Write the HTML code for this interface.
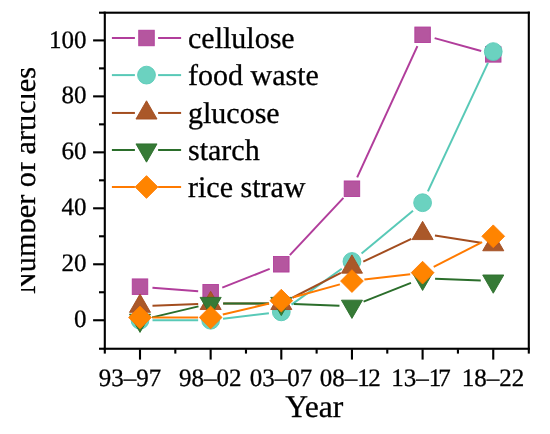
<!DOCTYPE html>
<html><head><meta charset="utf-8"><title>Number of articles by year</title>
<style>
html,body{margin:0;padding:0;background:#fff;width:550px;height:434px;overflow:hidden}
svg{display:block}
text{font-family:"Liberation Serif","Times New Roman",serif;fill:#000;stroke:#000;stroke-width:0.3px;text-rendering:geometricPrecision}
.tk text{font-size:25px}
.lg{font-size:30px}
.ti{font-size:30.3px}
.yr{font-size:31.6px}
</style></head><body>
<svg width="550" height="434" viewBox="0 0 550 434">
<rect width="550" height="434" fill="#fff"/>
<g stroke-width="2.0"><line x1="152.46" y1="287.66" x2="198.19" y2="291.28" stroke="#b13d9b"/><line x1="222.27" y1="287.66" x2="269.68" y2="268.88" stroke="#b13d9b"/><line x1="289.84" y1="255.15" x2="343.41" y2="197.85" stroke="#b13d9b"/><line x1="357.16" y1="177.36" x2="417.39" y2="46.16" stroke="#b13d9b"/><line x1="434.65" y1="38.14" x2="481.2" y2="51.05" stroke="#b13d9b"/></g><rect x="132.25" y="278.92" width="15.5" height="15.5" fill="#b5569f" stroke="#b13d9b" stroke-width="0.9"/><rect x="202.9" y="284.51" width="15.5" height="15.5" fill="#b5569f" stroke="#b13d9b" stroke-width="0.9"/><rect x="273.55" y="256.53" width="15.5" height="15.5" fill="#b5569f" stroke="#b13d9b" stroke-width="0.9"/><rect x="344.2" y="180.97" width="15.5" height="15.5" fill="#b5569f" stroke="#b13d9b" stroke-width="0.9"/><rect x="414.85" y="27.05" width="15.5" height="15.5" fill="#b5569f" stroke="#b13d9b" stroke-width="0.9"/><rect x="485.5" y="46.64" width="15.5" height="15.5" fill="#b5569f" stroke="#b13d9b" stroke-width="0.9"/><g stroke-width="2.0"><line x1="152.5" y1="320.25" x2="198.15" y2="320.25" stroke="#58c9b7"/><line x1="223.06" y1="318.77" x2="268.89" y2="313.33" stroke="#58c9b7"/><line x1="291.48" y1="304.6" x2="341.77" y2="268.74" stroke="#58c9b7"/><line x1="361.56" y1="253.49" x2="412.99" y2="210.71" stroke="#58c9b7"/><line x1="427.89" y1="191.39" x2="487.96" y2="62.92" stroke="#58c9b7"/></g><circle cx="140" cy="320.25" r="8.9" fill="#6bd2c0" stroke="#58c9b7" stroke-width="0.9"/><circle cx="210.65" cy="320.25" r="8.9" fill="#6bd2c0" stroke="#58c9b7" stroke-width="0.9"/><circle cx="281.3" cy="311.85" r="8.9" fill="#6bd2c0" stroke="#58c9b7" stroke-width="0.9"/><circle cx="351.95" cy="261.48" r="8.9" fill="#6bd2c0" stroke="#58c9b7" stroke-width="0.9"/><circle cx="422.6" cy="202.71" r="8.9" fill="#6bd2c0" stroke="#58c9b7" stroke-width="0.9"/><circle cx="493.25" cy="51.59" r="8.9" fill="#6bd2c0" stroke="#58c9b7" stroke-width="0.9"/><g stroke-width="2.0"><line x1="152.49" y1="305.76" x2="198.16" y2="303.95" stroke="#a34d1f"/><line x1="223.15" y1="303.46" x2="268.8" y2="303.46" stroke="#a34d1f"/><line x1="292.41" y1="297.74" x2="340.84" y2="272.8" stroke="#a34d1f"/><line x1="363.24" y1="261.71" x2="411.31" y2="238.86" stroke="#a34d1f"/><line x1="434.95" y1="235.45" x2="480.9" y2="242.73" stroke="#a34d1f"/></g><polygon points="140,294.09 150.53,312.34 129.47,312.34" fill="#aa5829" stroke="#a34d1f" stroke-width="0.9" stroke-linejoin="miter"/><polygon points="210.65,291.29 221.19,309.54 200.12,309.54" fill="#aa5829" stroke="#a34d1f" stroke-width="0.9" stroke-linejoin="miter"/><polygon points="281.3,291.29 291.84,309.54 270.76,309.54" fill="#aa5829" stroke="#a34d1f" stroke-width="0.9" stroke-linejoin="miter"/><polygon points="351.95,254.91 362.49,273.16 341.42,273.16" fill="#aa5829" stroke="#a34d1f" stroke-width="0.9" stroke-linejoin="miter"/><polygon points="422.6,221.33 433.14,239.58 412.06,239.58" fill="#aa5829" stroke="#a34d1f" stroke-width="0.9" stroke-linejoin="miter"/><polygon points="493.25,232.53 503.79,250.77 482.71,250.77" fill="#aa5829" stroke="#a34d1f" stroke-width="0.9" stroke-linejoin="miter"/><g stroke-width="2.0"><line x1="152.16" y1="317.36" x2="198.49" y2="306.35" stroke="#2b6e2b"/><line x1="223.15" y1="303.46" x2="268.8" y2="303.46" stroke="#2b6e2b"/><line x1="293.79" y1="303.95" x2="339.46" y2="305.76" stroke="#2b6e2b"/><line x1="363.57" y1="301.65" x2="410.98" y2="282.88" stroke="#2b6e2b"/><line x1="435.09" y1="278.77" x2="480.76" y2="280.58" stroke="#2b6e2b"/></g><polygon points="140,332.41 150.53,314.17 129.47,314.17" fill="#367a36" stroke="#2b6e2b" stroke-width="0.9" stroke-linejoin="miter"/><polygon points="210.65,315.62 221.19,297.38 200.12,297.38" fill="#367a36" stroke="#2b6e2b" stroke-width="0.9" stroke-linejoin="miter"/><polygon points="281.3,315.62 291.84,297.38 270.76,297.38" fill="#367a36" stroke="#2b6e2b" stroke-width="0.9" stroke-linejoin="miter"/><polygon points="351.95,318.42 362.49,300.18 341.42,300.18" fill="#367a36" stroke="#2b6e2b" stroke-width="0.9" stroke-linejoin="miter"/><polygon points="422.6,290.44 433.14,272.19 412.06,272.19" fill="#367a36" stroke="#2b6e2b" stroke-width="0.9" stroke-linejoin="miter"/><polygon points="493.25,293.24 503.79,274.99 482.71,274.99" fill="#367a36" stroke="#2b6e2b" stroke-width="0.9" stroke-linejoin="miter"/><g stroke-width="2.0"><line x1="152.5" y1="317.45" x2="198.15" y2="317.45" stroke="#ff7a00"/><line x1="222.81" y1="314.56" x2="269.14" y2="303.55" stroke="#ff7a00"/><line x1="293.35" y1="297.32" x2="339.9" y2="284.41" stroke="#ff7a00"/><line x1="364.36" y1="279.6" x2="410.19" y2="274.15" stroke="#ff7a00"/><line x1="433.71" y1="266.95" x2="482.14" y2="242.02" stroke="#ff7a00"/></g><polygon points="140,306.08 151.37,317.45 140,328.82 128.63,317.45" fill="#ff8400" stroke="#ff7a00" stroke-width="0.9"/><polygon points="210.65,306.08 222.02,317.45 210.65,328.82 199.28,317.45" fill="#ff8400" stroke="#ff7a00" stroke-width="0.9"/><polygon points="281.3,289.29 292.67,300.66 281.3,312.03 269.93,300.66" fill="#ff8400" stroke="#ff7a00" stroke-width="0.9"/><polygon points="351.95,269.7 363.32,281.07 351.95,292.44 340.58,281.07" fill="#ff8400" stroke="#ff7a00" stroke-width="0.9"/><polygon points="422.6,261.31 433.97,272.68 422.6,284.05 411.23,272.68" fill="#ff8400" stroke="#ff7a00" stroke-width="0.9"/><polygon points="493.25,224.92 504.62,236.29 493.25,247.66 481.88,236.29" fill="#ff8400" stroke="#ff7a00" stroke-width="0.9"/>
<line x1="111.9" y1="38" x2="134.9" y2="38" stroke="#b13d9b" stroke-width="2.0"/><line x1="158.1" y1="38" x2="181.1" y2="38" stroke="#b13d9b" stroke-width="2.0"/><rect x="138.75" y="30.25" width="15.5" height="15.5" fill="#b5569f" stroke="#b13d9b" stroke-width="0.9"/><text x="188" y="48.1" class="lg">cellulose</text><line x1="111.9" y1="75.1" x2="134.9" y2="75.1" stroke="#58c9b7" stroke-width="2.0"/><line x1="158.1" y1="75.1" x2="181.1" y2="75.1" stroke="#58c9b7" stroke-width="2.0"/><circle cx="146.5" cy="75.1" r="8.9" fill="#6bd2c0" stroke="#58c9b7" stroke-width="0.9"/><text x="188" y="85.2" class="lg">food waste</text><line x1="111.9" y1="112.95" x2="134.9" y2="112.95" stroke="#a34d1f" stroke-width="2.0"/><line x1="158.1" y1="112.95" x2="181.1" y2="112.95" stroke="#a34d1f" stroke-width="2.0"/><polygon points="146.5,100.79 157.03,119.03 135.97,119.03" fill="#aa5829" stroke="#a34d1f" stroke-width="0.9" stroke-linejoin="miter"/><text x="188" y="123.05" class="lg">glucose</text><line x1="111.9" y1="150" x2="134.9" y2="150" stroke="#2b6e2b" stroke-width="2.0"/><line x1="158.1" y1="150" x2="181.1" y2="150" stroke="#2b6e2b" stroke-width="2.0"/><polygon points="146.5,162.16 157.03,143.92 135.97,143.92" fill="#367a36" stroke="#2b6e2b" stroke-width="0.9" stroke-linejoin="miter"/><text x="188" y="160.1" class="lg">starch</text><line x1="111.9" y1="187" x2="134.9" y2="187" stroke="#ff7a00" stroke-width="2.0"/><line x1="158.1" y1="187" x2="181.1" y2="187" stroke="#ff7a00" stroke-width="2.0"/><polygon points="146.5,175.63 157.87,187 146.5,198.37 135.13,187" fill="#ff8400" stroke="#ff7a00" stroke-width="0.9"/><text x="188" y="197.1" class="lg">rice straw</text>
<g fill="#000"><rect x="103.75" y="11.65" width="426.1" height="2.1"/><rect x="103.75" y="347.7" width="426.1" height="2.1"/><rect x="103.75" y="11.65" width="2.1" height="338.15"/><rect x="527.75" y="11.65" width="2.1" height="338.15"/><rect x="99" y="347.7" width="5.25" height="2.1"/><rect x="93.1" y="319.2" width="11.15" height="2.1"/><rect x="99" y="291.21" width="5.25" height="2.1"/><rect x="93.1" y="263.23" width="11.15" height="2.1"/><rect x="99" y="235.24" width="5.25" height="2.1"/><rect x="93.1" y="207.26" width="11.15" height="2.1"/><rect x="99" y="179.27" width="5.25" height="2.1"/><rect x="93.1" y="151.29" width="11.15" height="2.1"/><rect x="99" y="123.3" width="5.25" height="2.1"/><rect x="93.1" y="95.32" width="11.15" height="2.1"/><rect x="99" y="67.33" width="5.25" height="2.1"/><rect x="93.1" y="39.35" width="11.15" height="2.1"/><rect x="99" y="11.65" width="5.25" height="2.1"/><rect x="103.75" y="349.3" width="2.1" height="4.3"/><rect x="138.95" y="349.3" width="2.1" height="10.3"/><rect x="174.27" y="349.3" width="2.1" height="4.3"/><rect x="209.6" y="349.3" width="2.1" height="10.3"/><rect x="244.93" y="349.3" width="2.1" height="4.3"/><rect x="280.25" y="349.3" width="2.1" height="10.3"/><rect x="315.57" y="349.3" width="2.1" height="4.3"/><rect x="350.9" y="349.3" width="2.1" height="10.3"/><rect x="386.23" y="349.3" width="2.1" height="4.3"/><rect x="421.55" y="349.3" width="2.1" height="10.3"/><rect x="456.88" y="349.3" width="2.1" height="4.3"/><rect x="492.2" y="349.3" width="2.1" height="10.3"/><rect x="527.75" y="349.3" width="2.1" height="4.3"/></g>
<g class="tk" text-anchor="end"><text x="86.5" y="327.35">0</text><text x="86.5" y="271.38">20</text><text x="86.5" y="215.41">40</text><text x="86.5" y="159.44">60</text><text x="86.5" y="103.47">80</text><text x="86.5" y="47.5">100</text></g>
<g class="tk" text-anchor="middle"><text x="130" y="386">93&#8211;97</text><text x="210.35" y="386">98&#8211;02</text><text x="281" y="386">03&#8211;07</text><text x="350.3" y="386">08&#8211;1<tspan dx="-1.5">2</tspan></text><text x="421.1" y="386">13&#8211;1<tspan dx="-3">7</tspan></text><text x="492.95" y="386">18&#8211;22</text></g>
<text x="314.3" y="417" class="yr" text-anchor="middle">Year</text>
<svg x="20.9" y="0" width="529.1" height="434" overflow="hidden"><text transform="translate(14.1,180.5) rotate(-90)" class="ti" text-anchor="middle">Number of articles</text></svg>
</svg>
</body></html>
